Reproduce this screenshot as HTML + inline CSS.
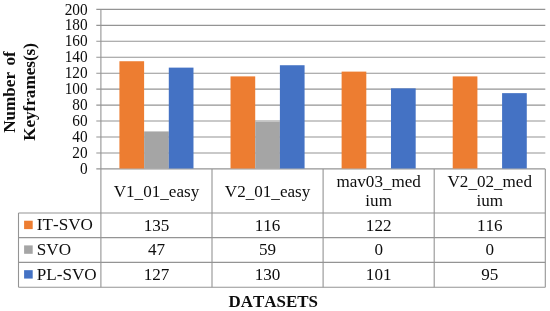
<!DOCTYPE html>
<html><head><meta charset="utf-8"><title>Chart</title>
<style>html,body{margin:0;padding:0;background:#fff}svg{display:block;font-family:'Liberation Serif',serif;font-kerning:none}</style></head>
<body>
<svg width="550" height="311" viewBox="0 0 550 311">
<rect width="550" height="311" fill="#fff"/>
<g stroke="#949494" stroke-width="1.1" fill="none">
<line x1="96.30" y1="168.90" x2="545.30" y2="168.90"/>
<line x1="96.30" y1="152.95" x2="545.30" y2="152.95"/>
<line x1="96.30" y1="137.00" x2="545.30" y2="137.00"/>
<line x1="96.30" y1="121.05" x2="545.30" y2="121.05"/>
<line x1="96.30" y1="105.10" x2="545.30" y2="105.10"/>
<line x1="96.30" y1="89.15" x2="545.30" y2="89.15"/>
<line x1="96.30" y1="73.20" x2="545.30" y2="73.20"/>
<line x1="96.30" y1="57.25" x2="545.30" y2="57.25"/>
<line x1="96.30" y1="41.30" x2="545.30" y2="41.30"/>
<line x1="96.30" y1="25.35" x2="545.30" y2="25.35"/>
<line x1="96.30" y1="9.40" x2="545.30" y2="9.40"/>
<line x1="18.50" y1="213.00" x2="545.30" y2="213.00"/>
<line x1="18.50" y1="237.65" x2="545.30" y2="237.65"/>
<line x1="18.50" y1="262.35" x2="545.30" y2="262.35"/>
<line x1="18.50" y1="287.20" x2="545.30" y2="287.20"/>
<line x1="18.50" y1="213.00" x2="18.50" y2="287.20"/>
<line x1="100.90" y1="9.40" x2="100.90" y2="287.20"/>
<line x1="212.00" y1="168.90" x2="212.00" y2="287.20"/>
<line x1="323.10" y1="168.90" x2="323.10" y2="287.20"/>
<line x1="434.20" y1="168.90" x2="434.20" y2="287.20"/>
<line x1="545.30" y1="168.90" x2="545.30" y2="287.20"/>
</g>
<rect x="119.42" y="61.24" width="24.69" height="107.26" fill="#ED7D31"/>
<rect x="144.11" y="131.42" width="24.69" height="37.08" fill="#A5A5A5"/>
<rect x="168.79" y="67.62" width="24.69" height="100.88" fill="#4472C4"/>
<rect x="230.52" y="76.39" width="24.69" height="92.11" fill="#ED7D31"/>
<rect x="255.21" y="121.85" width="24.69" height="46.65" fill="#A5A5A5"/>
<rect x="279.89" y="65.23" width="24.69" height="103.27" fill="#4472C4"/>
<rect x="341.62" y="71.61" width="24.69" height="96.89" fill="#ED7D31"/>
<rect x="390.99" y="88.35" width="24.69" height="80.15" fill="#4472C4"/>
<rect x="452.72" y="76.39" width="24.69" height="92.11" fill="#ED7D31"/>
<rect x="502.09" y="93.14" width="24.69" height="75.36" fill="#4472C4"/>
<g fill="#0d0d0d">
<text transform="translate(87.60,174.00) scale(1,1.03)" font-size="15.3" text-anchor="end">0</text>
<text transform="translate(87.60,158.05) scale(1,1.03)" font-size="15.3" text-anchor="end">20</text>
<text transform="translate(87.60,142.10) scale(1,1.03)" font-size="15.3" text-anchor="end">40</text>
<text transform="translate(87.60,126.15) scale(1,1.03)" font-size="15.3" text-anchor="end">60</text>
<text transform="translate(87.60,110.20) scale(1,1.03)" font-size="15.3" text-anchor="end">80</text>
<text transform="translate(87.60,94.25) scale(1,1.03)" font-size="15.3" text-anchor="end">100</text>
<text transform="translate(87.60,78.30) scale(1,1.03)" font-size="15.3" text-anchor="end">120</text>
<text transform="translate(87.60,62.35) scale(1,1.03)" font-size="15.3" text-anchor="end">140</text>
<text transform="translate(87.60,46.40) scale(1,1.03)" font-size="15.3" text-anchor="end">160</text>
<text transform="translate(87.60,30.45) scale(1,1.03)" font-size="15.3" text-anchor="end">180</text>
<text transform="translate(87.60,14.50) scale(1,1.03)" font-size="15.3" text-anchor="end">200</text>
<text transform="translate(156.45,196.60) scale(1,1.0)" font-size="17.1" text-anchor="middle">V1<tspan dy="1.1">_</tspan><tspan dy="-1.1">01</tspan><tspan dy="1.1">_</tspan><tspan dy="-1.1">easy</tspan></text>
<text transform="translate(267.55,196.60) scale(1,1.0)" font-size="17.1" text-anchor="middle">V2<tspan dy="1.1">_</tspan><tspan dy="-1.1">01</tspan><tspan dy="1.1">_</tspan><tspan dy="-1.1">easy</tspan></text>
<text transform="translate(378.65,186.80) scale(1,1.0)" font-size="17.1" text-anchor="middle">mav03<tspan dy="1.1">_</tspan><tspan dy="-1.1">med</tspan></text>
<text transform="translate(378.65,205.60) scale(1,1.0)" font-size="17.1" text-anchor="middle">ium</text>
<text transform="translate(489.75,186.80) scale(1,1.0)" font-size="17.1" text-anchor="middle">V2<tspan dy="1.1">_</tspan><tspan dy="-1.1">02</tspan><tspan dy="1.1">_</tspan><tspan dy="-1.1">med</tspan></text>
<text transform="translate(489.75,205.60) scale(1,1.0)" font-size="17.1" text-anchor="middle">ium</text>
<rect x="24.1" y="220.72" width="8.6" height="8.4" fill="#ED7D31"/>
<text transform="translate(36.80,230.32) scale(1,1.0)" font-size="17.1" text-anchor="start">IT-SVO</text>
<text transform="translate(156.45,230.52) scale(1,1.0)" font-size="17.1" text-anchor="middle">135</text>
<text transform="translate(267.55,230.52) scale(1,1.0)" font-size="17.1" text-anchor="middle">116</text>
<text transform="translate(378.65,230.52) scale(1,1.0)" font-size="17.1" text-anchor="middle">122</text>
<text transform="translate(489.75,230.52) scale(1,1.0)" font-size="17.1" text-anchor="middle">116</text>
<rect x="24.1" y="245.40" width="8.6" height="8.4" fill="#A5A5A5"/>
<text transform="translate(36.80,255.00) scale(1,1.0)" font-size="17.1" text-anchor="start">SVO</text>
<text transform="translate(156.45,255.20) scale(1,1.0)" font-size="17.1" text-anchor="middle">47</text>
<text transform="translate(267.55,255.20) scale(1,1.0)" font-size="17.1" text-anchor="middle">59</text>
<text transform="translate(378.65,255.20) scale(1,1.0)" font-size="17.1" text-anchor="middle">0</text>
<text transform="translate(489.75,255.20) scale(1,1.0)" font-size="17.1" text-anchor="middle">0</text>
<rect x="24.1" y="270.17" width="8.6" height="8.4" fill="#4472C4"/>
<text transform="translate(36.80,279.77) scale(1,1.0)" font-size="17.1" text-anchor="start">PL-SVO</text>
<text transform="translate(156.45,279.97) scale(1,1.0)" font-size="17.1" text-anchor="middle">127</text>
<text transform="translate(267.55,279.97) scale(1,1.0)" font-size="17.1" text-anchor="middle">130</text>
<text transform="translate(378.65,279.97) scale(1,1.0)" font-size="17.1" text-anchor="middle">101</text>
<text transform="translate(489.75,279.97) scale(1,1.0)" font-size="17.1" text-anchor="middle">95</text>
<text transform="translate(273.30,306.80) scale(1,1.0)" font-size="16.95" text-anchor="middle" font-weight="bold">DATASETS</text>
<text transform="translate(14.5,92.0) rotate(-90)" font-size="17.1" font-weight="bold" text-anchor="middle" word-spacing="2.2">Number of</text>
<text transform="translate(34.8,91.95) rotate(-90)" font-size="17.1" font-weight="bold" text-anchor="middle">Keyframes(s)</text>
</g>
</svg>
</body></html>
